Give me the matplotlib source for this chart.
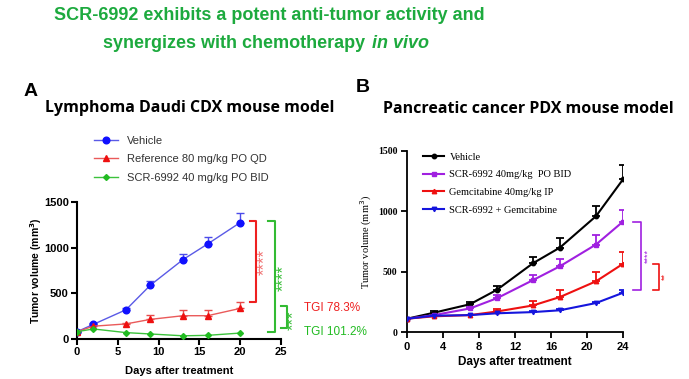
import numpy as np
import matplotlib.pyplot as plt

# Panel A - Lymphoma Daudi CDX
days_a = [0, 2, 6, 9, 13, 16, 20]
vehicle_a = [80, 160, 320, 590, 870, 1040, 1275]
vehicle_a_err = [5, 15, 15, 50, 60, 80, 110]
ref_a = [80, 140, 165, 215, 255, 255, 335]
ref_a_err = [5, 10, 15, 50, 60, 60, 70]
scr_a = [80, 110, 70, 55, 35, 40, 65]
scr_a_err = [5, 10, 8, 8, 8, 8, 8]

# Panel B - Pancreatic cancer PDX
days_b = [0, 3, 7, 10, 14, 17, 21, 24]
vehicle_b = [110, 160, 230, 350, 570, 700, 960, 1265]
vehicle_b_err = [10, 10, 15, 35, 50, 75, 85, 120]
scr_b = [110, 140, 195, 280, 430, 545, 725, 915]
scr_b_err = [5, 5, 10, 25, 40, 60, 75, 95]
gem_b = [110, 130, 140, 170, 220, 290, 420, 565]
gem_b_err = [5, 5, 5, 20, 35, 55, 75, 100]
combo_b = [110, 135, 140, 155, 165, 180, 240, 325]
combo_b_err = [5, 5, 5, 5, 8, 10, 12, 20]

green_title = "#1daa3e"
sans = ["Liberation Sans", "DejaVu Sans"]
serif = ["Liberation Serif", "DejaVu Serif"]

fig = plt.figure(figsize=(6.89, 3.79), dpi=100)

# big green title (second line has an italic part)
fig.text(269 / 689, 1 - 15 / 379, "SCR-6992 exhibits a potent anti-tumor activity and",
         ha="center", va="center", color=green_title, fontsize=13,
         fontweight="bold", family=sans)
fig.text(370 / 689, 1 - 43 / 379, "synergizes with chemotherapy ",
         ha="right", va="center", color=green_title, fontsize=13,
         fontweight="bold", family=sans)
fig.text(372 / 689, 1 - 43 / 379, "in vivo",
         ha="left", va="center", color=green_title, fontsize=13,
         fontweight="bold", fontstyle="italic", family=sans)


def upper_err(ax, x, y, err, color, lw):
    ax.errorbar(x, y, yerr=[np.zeros(len(err)), err], fmt="none", ecolor=color,
                elinewidth=lw, capsize=3, capthick=lw, zorder=2)


def bracket(ax, x, y0, y1, w, color, lw=1.5):
    ax.plot([x - w, x, x, x - w], [y1, y1, y0, y0], color=color, lw=lw, clip_on=False)


# ---------------- Panel A ----------------
axA = fig.add_axes([77 / 689, 1 - 339 / 379, 204 / 689, 137 / 379])
upper_err(axA, days_a, vehicle_a, vehicle_a_err, "#4b4bea", 1)
upper_err(axA, days_a, ref_a, ref_a_err, "#e84a4a", 1)
axA.plot(days_a, vehicle_a, color="#5a5ae6", lw=1, marker="o", ms=4.8,
         mfc="#1010ff", mec="#1010ff", label="Vehicle", zorder=3)
axA.plot(days_a, ref_a, color="#ea5a5a", lw=1, marker="^", ms=4.8,
         mfc="#ee1010", mec="#ee1010", label="Reference 80 mg/kg PO QD", zorder=3)
axA.plot(days_a, scr_a, color="#3cc23c", lw=1, marker="D", ms=3,
         mfc="#22bb22", mec="#22bb22", label="SCR-6992 40 mg/kg PO BID", zorder=3)
axA.set_xlim(0, 25)
axA.set_ylim(0, 1500)
axA.set_xticks([0, 5, 10, 15, 20, 25])
axA.set_yticks([0, 500, 1000, 1500])
for s in ["top", "right"]:
    axA.spines[s].set_visible(False)
for s in ["left", "bottom"]:
    axA.spines[s].set_linewidth(1.5)
axA.tick_params(width=1.5, length=4, labelsize=8, pad=2)
for lab in axA.get_xticklabels() + axA.get_yticklabels():
    lab.set_fontweight("bold")
    lab.set_family(sans)
axA.set_xlabel("Days after treatment", fontsize=8, fontweight="bold", family=sans, labelpad=6)
axA.set_ylabel("Tumor volume (mm$^\\mathbf{3}$)", fontsize=7.5, fontweight="bold", family=sans,
               labelpad=0)
axA.legend(loc="upper left", bbox_to_anchor=(84 / 689, 1 - 126 / 379),
           bbox_transform=fig.transFigure, frameon=False,
           prop={"family": sans, "size": 8}, handlelength=2.2, labelspacing=0.75,
           handletextpad=0.8, labelcolor="#333333")

bracket(axA, 21.9, 405, 1292, 0.75, "#ee2020")
axA.text(22.9, 843, "****", rotation=90, color="#f07070", fontsize=12, ha="center",
         va="center", family=sans)
bracket(axA, 24.3, 80, 1292, 0.9, "#33bb33")
axA.text(25.3, 668, "****", rotation=90, color="#33bb33", fontsize=12, ha="center",
         va="center", family=sans)
bracket(axA, 25.7, 120, 365, 0.7, "#33bb33")
axA.text(26.5, 200, "***", rotation=90, color="#33bb33", fontsize=12, ha="center",
         va="center", family=sans)
fig.text(304 / 689, 1 - 308 / 379, "TGI 78.3%", color="#ee2020", fontsize=8.5, va="center",
         family=sans)
fig.text(304 / 689, 1 - 332 / 379, "TGI 101.2%", color="#22bb22", fontsize=8.5, va="center",
         family=sans)

fig.text(190 / 689, 1 - 108 / 379, "Lymphoma Daudi CDX mouse model", ha="center", va="center",
         fontsize=11.5, fontweight="bold", family=["Open Sans"] + sans)
fig.text(24 / 689, 1 - 92 / 379, "A", ha="left", va="center", fontsize=14, fontweight="bold",
         family=sans)

# ---------------- Panel B ----------------
axB = fig.add_axes([407 / 689, 1 - 332 / 379, 216 / 689, 181 / 379])
series_b = [
    (vehicle_b, vehicle_b_err, "black", "o", "Vehicle"),
    (scr_b, scr_b_err, "#a020e0", "s", "SCR-6992 40mg/kg  PO BID"),
    (gem_b, gem_b_err, "#ee1010", "^", "Gemcitabine 40mg/kg IP"),
    (combo_b, combo_b_err, "#1515dd", "v", "SCR-6992 + Gemcitabine"),
]
for vals, err, col, mk, lab in series_b:
    upper_err(axB, days_b, vals, err, col, 1.3)
    axB.plot(days_b, vals, color=col, lw=1.5, marker=mk, ms=3.2, mfc=col, mec=col,
             label=lab, zorder=3)
axB.set_xlim(0, 24)
axB.set_ylim(0, 1500)
axB.set_xticks(range(0, 25, 4))
axB.set_yticks([0, 500, 1000, 1500])
for s in ["top", "right"]:
    axB.spines[s].set_visible(False)
for s in ["left", "bottom"]:
    axB.spines[s].set_linewidth(1.3)
axB.tick_params(width=1.3, length=4, labelsize=8, pad=3)
for lab in axB.get_xticklabels():
    lab.set_fontweight("bold")
    lab.set_family(sans)
for lab in axB.get_yticklabels():
    lab.set_fontweight("bold")
    lab.set_family(serif)
    lab.set_fontsize(7)
axB.set_xlabel("Days after treatment", fontsize=8.5, fontweight="bold", family=sans, labelpad=3)
axB.set_ylabel("Tumor volume (mm$^3$)", fontsize=7.5, family=serif, labelpad=3)
axB.legend(loc="upper left", bbox_to_anchor=(414 / 689, 1 - 143 / 379),
           bbox_transform=fig.transFigure, frameon=False,
           prop={"family": serif, "size": 7.5}, handlelength=2.0, labelspacing=0.8,
           handletextpad=0.5)

bracket(axB, 26.0, 350, 915, 0.9, "#a020e0", lw=1.2)
axB.text(26.8, 630, "****", rotation=90, color="#a020e0", fontsize=6.5, ha="center",
         va="center", family=sans)
bracket(axB, 28.0, 350, 565, 0.7, "#ee1010", lw=1.2)
axB.text(28.7, 460, "**", rotation=90, color="#ee1010", fontsize=6.5, ha="center",
         va="center", family=sans)

fig.text(528 / 689, 1 - 109 / 379, "Pancreatic cancer PDX mouse model", ha="center", va="center",
         fontsize=11.5, fontweight="bold", family=["Open Sans"] + sans)
fig.text(356 / 689, 1 - 88 / 379, "B", ha="left", va="center", fontsize=14, fontweight="bold",
         family=sans)

fig.savefig("out.png", dpi=100)
